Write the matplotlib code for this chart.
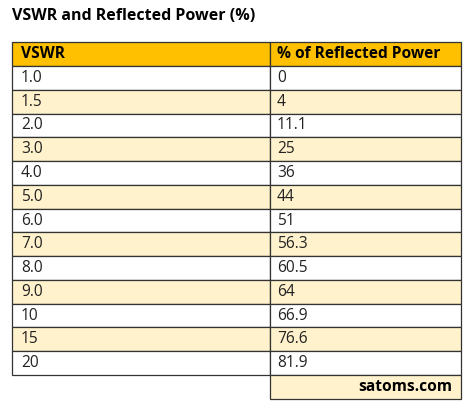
import matplotlib
matplotlib.use("Agg")
import matplotlib.pyplot as plt
from matplotlib.patches import Rectangle

title = "VSWR and Reflected Power (%)"
headers = ["VSWR", "% of Reflected Power"]
vswr = ["1.0", "1.5", "2.0", "3.0", "4.0", "5.0", "6.0", "7.0", "8.0", "9.0", "10", "15", "20"]
reflected = ["0", "4", "11.1", "25", "36", "44", "51", "56.3", "60.5", "64", "66.9", "76.6", "81.9"]
credit = "satoms.com"

W, H = 474, 417
fig = plt.figure(figsize=(W / 100, H / 100), dpi=100)
ax = fig.add_axes([0, 0, 1, 1])
ax.set_xlim(0, W)
ax.set_ylim(H, 0)
ax.axis("off")

font = "Open Sans"
x0, x1, x2 = 12, 270, 461
top, hh = 42, 24
rh = (375 - 66) / len(vswr)
header_c, light_c, edge = "#FFC000", "#FFF2CC", "#333333"
fs = 11.2

ax.text(12, 16, title, fontsize=11.5, fontweight="bold", family=font, va="center", ha="left")

def cell(x, y, w, h, fc):
    ax.add_patch(Rectangle((x, y), w, h, facecolor=fc, edgecolor=edge, linewidth=0.9))

cell(x0, top, x1 - x0, hh, header_c)
cell(x1, top, x2 - x1, hh, header_c)
ax.text(x0 + 9, top + hh / 2, headers[0], fontsize=fs, fontweight="bold", family=font, va="center")
ax.text(x1 + 7, top + hh / 2, headers[1], fontsize=fs, fontweight="bold", family=font, va="center")

y = top + hh
for i, (a, b) in enumerate(zip(vswr, reflected)):
    fc = light_c if i % 2 == 1 else "white"
    cell(x0, y, x1 - x0, rh, fc)
    cell(x1, y, x2 - x1, rh, fc)
    ax.text(x0 + 9, y + rh / 2, a, fontsize=fs, family=font, va="center", color="#222222")
    ax.text(x1 + 7, y + rh / 2, b, fontsize=fs, family=font, va="center", color="#222222")
    y += rh

cell(x1, y, x2 - x1, rh, light_c)
ax.text(x2 - 9, y + rh / 2, credit, fontsize=fs, fontweight="bold", family=font, va="center", ha="right")

fig.savefig("out.png", dpi=100, facecolor="white")
